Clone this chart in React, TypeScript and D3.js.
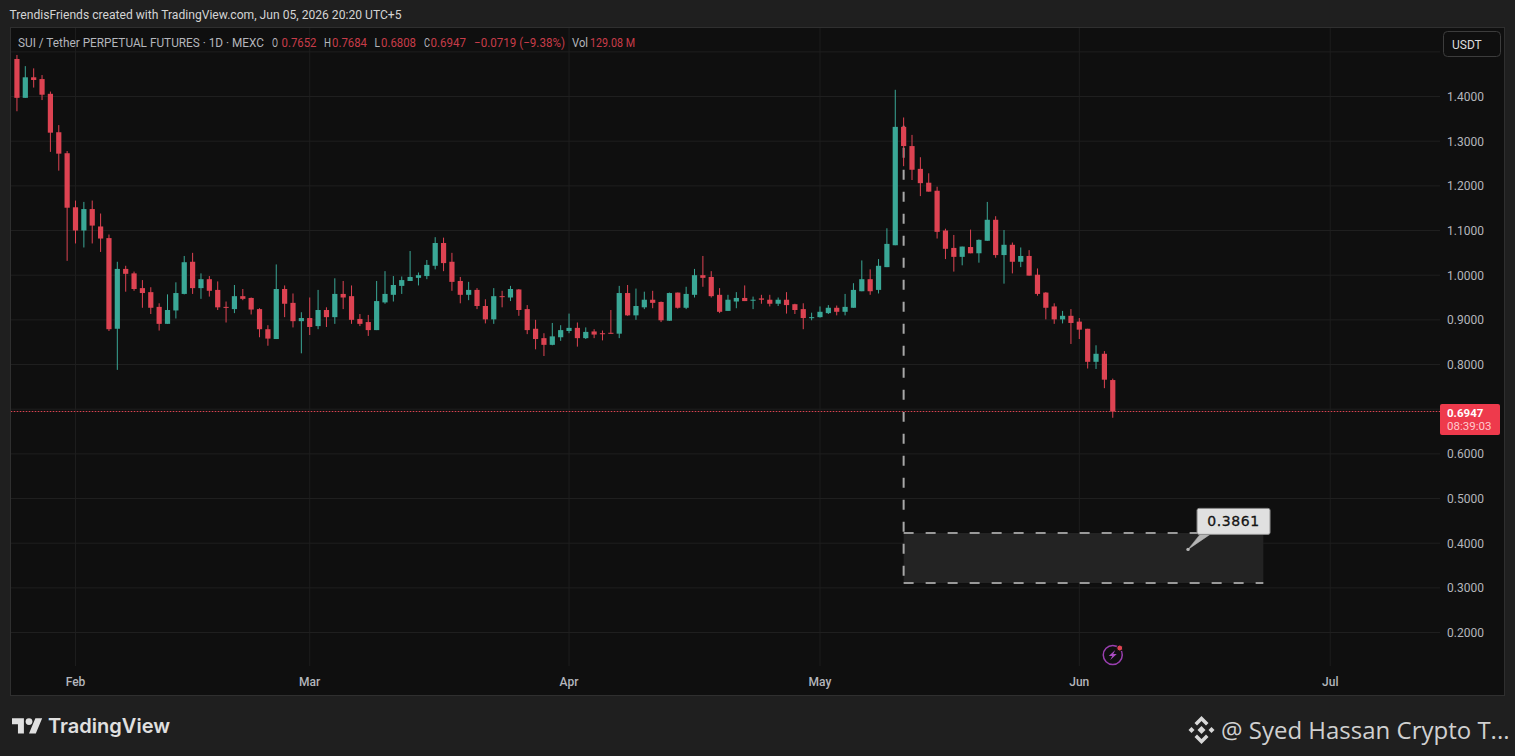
import * as d3 from 'd3';
import { useEffect, useRef } from 'react';

// daily candles, first one is Jan 25 2026
const firstDay = new Date(Date.UTC(2026, 0, 25));

const opens = [
  1.484, 1.397, 1.443, 1.439, 1.406, 1.320, 1.273, 1.152, 1.100, 1.148, 1.109, 1.083,
  0.880, 1.014, 1.004, 0.971, 0.962, 0.929, 0.891, 0.921, 0.958, 1.030, 0.971, 0.991,
  0.967, 0.929, 0.924, 0.953, 0.949, 0.924, 0.879, 0.857, 0.969, 0.938, 0.897, 0.904,
  0.886, 0.922, 0.906, 0.958, 0.953, 0.902, 0.895, 0.877, 0.939, 0.956, 0.976, 0.987,
  0.994, 0.998, 1.021, 1.072, 1.030, 0.987, 0.956, 0.967, 0.931, 0.901, 0.953, 0.950,
  0.968, 0.924, 0.880, 0.859, 0.844, 0.861, 0.875, 0.882, 0.859, 0.874, 0.870, 0.871,
  0.869, 0.960, 0.910, 0.928, 0.945, 0.940, 0.898, 0.961, 0.927, 0.956, 1.000, 0.996,
  0.956, 0.920, 0.941, 0.949, 0.943, 0.948, 0.945, 0.936, 0.945, 0.935, 0.924, 0.905,
  0.906, 0.915, 0.927, 0.918, 0.927, 0.964, 0.991, 0.967, 1.018, 1.067, 1.332, 1.289,
  1.238, 1.207, 1.189, 1.100, 1.061, 1.041, 1.063, 1.049, 1.077, 1.124, 1.045, 1.068,
  1.030, 1.043, 1.001, 0.961, 0.930, 0.901, 0.909, 0.896, 0.880, 0.806, 0.824, 0.7652,
];
const closes = [
  1.397, 1.443, 1.437, 1.404, 1.319, 1.272, 1.151, 1.100, 1.148, 1.111, 1.082, 0.879,
  1.014, 1.003, 0.969, 0.960, 0.927, 0.891, 0.922, 0.960, 1.029, 0.971, 0.991, 0.965,
  0.928, 0.927, 0.953, 0.947, 0.923, 0.879, 0.858, 0.969, 0.936, 0.897, 0.904, 0.884,
  0.922, 0.906, 0.958, 0.950, 0.900, 0.891, 0.877, 0.942, 0.958, 0.978, 0.989, 0.996,
  1.000, 1.023, 1.072, 1.027, 0.985, 0.956, 0.967, 0.931, 0.901, 0.953, 0.951, 0.969,
  0.922, 0.877, 0.857, 0.844, 0.863, 0.877, 0.882, 0.859, 0.873, 0.867, 0.868, 0.869,
  0.960, 0.910, 0.931, 0.945, 0.938, 0.899, 0.960, 0.927, 0.958, 1.000, 0.994, 0.953,
  0.918, 0.945, 0.949, 0.942, 0.945, 0.945, 0.936, 0.945, 0.933, 0.922, 0.904, 0.906,
  0.918, 0.927, 0.918, 0.929, 0.967, 0.991, 0.964, 1.021, 1.070, 1.332, 1.289, 1.236,
  1.206, 1.187, 1.097, 1.059, 1.041, 1.064, 1.049, 1.079, 1.124, 1.045, 1.068, 1.030,
  1.043, 0.999, 0.958, 0.927, 0.901, 0.909, 0.893, 0.878, 0.806, 0.824, 0.766, 0.6947,
];
const highs = [
  1.493, 1.468, 1.463, 1.448, 1.411, 1.336, 1.278, 1.167, 1.164, 1.167, 1.138, 1.091,
  1.030, 1.021, 1.008, 0.989, 0.973, 0.937, 0.957, 0.984, 1.043, 1.050, 1.004, 0.998,
  0.986, 0.941, 0.978, 0.969, 0.950, 0.926, 0.888, 1.024, 0.977, 0.959, 0.917, 0.950,
  0.967, 0.928, 0.993, 0.987, 0.977, 0.913, 0.911, 0.987, 1.009, 0.998, 0.997, 1.054,
  1.006, 1.034, 1.085, 1.084, 1.050, 0.996, 0.985, 0.971, 0.946, 0.971, 0.965, 0.976,
  0.969, 0.933, 0.900, 0.870, 0.893, 0.888, 0.914, 0.894, 0.883, 0.879, 0.876, 0.922,
  0.976, 0.978, 0.970, 0.963, 0.965, 0.941, 0.961, 0.961, 0.974, 1.014, 1.043, 1.009,
  0.971, 0.956, 0.962, 0.977, 0.952, 0.956, 0.956, 0.950, 0.962, 0.936, 0.937, 0.916,
  0.930, 0.933, 0.932, 0.958, 0.982, 1.033, 1.013, 1.036, 1.105, 1.415, 1.353, 1.314,
  1.264, 1.228, 1.198, 1.104, 1.090, 1.064, 1.102, 1.080, 1.164, 1.132, 1.101, 1.073,
  1.062, 1.056, 1.015, 0.962, 0.937, 0.920, 0.924, 0.904, 0.880, 0.843, 0.830, 0.7684,
];
const lows = [
  1.367, 1.397, 1.420, 1.392, 1.276, 1.234, 1.032, 1.071, 1.062, 1.071, 1.052, 0.875,
  0.788, 0.963, 0.965, 0.927, 0.913, 0.876, 0.891, 0.903, 0.957, 0.958, 0.947, 0.952,
  0.922, 0.894, 0.915, 0.944, 0.912, 0.861, 0.842, 0.857, 0.906, 0.883, 0.825, 0.866,
  0.879, 0.884, 0.891, 0.924, 0.891, 0.886, 0.864, 0.877, 0.936, 0.941, 0.958, 0.987,
  0.977, 0.991, 1.013, 1.009, 0.965, 0.937, 0.944, 0.924, 0.892, 0.891, 0.928, 0.942,
  0.909, 0.868, 0.834, 0.819, 0.843, 0.853, 0.870, 0.840, 0.857, 0.859, 0.854, 0.869,
  0.859, 0.909, 0.900, 0.924, 0.926, 0.895, 0.898, 0.925, 0.924, 0.950, 0.974, 0.950,
  0.915, 0.920, 0.926, 0.942, 0.924, 0.936, 0.930, 0.931, 0.914, 0.913, 0.879, 0.899,
  0.905, 0.913, 0.910, 0.910, 0.927, 0.964, 0.956, 0.959, 1.018, 1.067, 1.244, 1.213,
  1.177, 1.187, 1.082, 1.036, 1.008, 1.022, 1.049, 1.028, 1.077, 1.039, 0.981, 1.004,
  1.018, 0.999, 0.954, 0.901, 0.891, 0.892, 0.846, 0.857, 0.791, 0.790, 0.747, 0.6808,
];

const priceTicks = [0.2, 0.3, 0.4, 0.5, 0.6, 0.7, 0.8, 0.9, 1.0, 1.1, 1.2, 1.3, 1.4, 1.5];
const hiddenPriceLabels = [0.7, 1.5];
const lastPrice = 0.6947;
const calloutPrice = 0.3861;
const zoneTop = 0.4228;
const zoneBottom = 0.3108;
const zoneStart = new Date(Date.UTC(2026, 4, 11));
const zoneEnd = new Date(Date.UTC(2026, 5, 23));
const calloutDay = new Date(Date.UTC(2026, 5, 14));
const spikeTop = 1.3345;

const legendTexts = [
  'SUI / Tether PERPETUAL FUTURES · 1D · MEXC',
  'O',
  '0.7652',
  'H',
  '0.7684',
  'L',
  '0.6808',
  'C',
  '0.6947',
  '−0.0719 (−9.38%)',
  'Vol',
  '129.08 M',
];

const W = 1515;
const H = 756;
const font = 'Roboto, "Liberation Sans", sans-serif';
const upColor = '#3aa796';
const downColor = '#dd4352';
const textColor = '#b4b6bc';

const App = () => {
  const ref = useRef<SVGSVGElement | null>(null);

  useEffect(() => {
    if (!ref.current) return;

    const svg = d3.select(ref.current);
    svg.selectAll('*').remove();
    svg.attr('width', W).attr('height', H);

    const x = d3
      .scaleUtc()
      .domain([new Date(Date.UTC(2026, 1, 1)), new Date(Date.UTC(2026, 5, 1))])
      .range([75.5, 1079.3]);
    const y = d3.scaleLinear().domain([0.2, 1.4]).range([632.5, 96.5]);

    svg.append('rect').attr('width', W).attr('height', H).attr('fill', '#1f1f1f');
    svg
      .append('rect')
      .attr('x', 10.5)
      .attr('y', 27.5)
      .attr('width', 1494)
      .attr('height', 668)
      .attr('fill', '#0f0f0f')
      .attr('stroke', '#2f2f2f');

    // grid
    const months = d3.utcMonth.range(new Date(Date.UTC(2026, 1, 1)), new Date(Date.UTC(2026, 6, 2)));
    svg
      .selectAll('.vgrid')
      .data(months)
      .enter()
      .append('line')
      .attr('x1', d => x(d))
      .attr('x2', d => x(d))
      .attr('y1', 28)
      .attr('y2', 666)
      .attr('stroke', '#1d1d1d');
    svg
      .selectAll('.hgrid')
      .data(priceTicks)
      .enter()
      .append('line')
      .attr('x1', 11)
      .attr('x2', 1440)
      .attr('y1', d => y(d))
      .attr('y2', d => y(d))
      .attr('stroke', '#1f1f1f');

    // axis labels
    svg
      .selectAll('.ptick')
      .data(priceTicks.filter(d => !hiddenPriceLabels.includes(d)))
      .enter()
      .append('text')
      .attr('x', 1447)
      .attr('y', d => y(d) + 4.5)
      .attr('font-family', font)
      .attr('font-size', 12)
      .attr('fill', textColor)
      .text(d => d.toFixed(4));
    svg
      .selectAll('.mtick')
      .data(months)
      .enter()
      .append('text')
      .attr('x', d => x(d))
      .attr('y', 686)
      .attr('text-anchor', 'middle')
      .attr('font-family', font)
      .attr('font-size', 12)
      .attr('font-weight', 500)
      .attr('fill', textColor)
      .text(d => d3.utcFormat('%b')(d));

    // drawn zone with the dashed guide, under the candles
    const zoneG = svg.append('g');
    zoneG
      .append('rect')
      .attr('x', x(zoneStart))
      .attr('y', y(zoneTop))
      .attr('width', x(zoneEnd) - x(zoneStart))
      .attr('height', y(zoneBottom) - y(zoneTop))
      .attr('fill', '#232323');
    [zoneTop, zoneBottom].forEach(p => {
      zoneG
        .append('line')
        .attr('x1', x(zoneStart))
        .attr('x2', x(zoneEnd))
        .attr('y1', y(p))
        .attr('y2', y(p))
        .attr('stroke', '#999999')
        .attr('stroke-width', 1.8)
        .attr('stroke-dasharray', '10 12');
    });
    zoneG
      .append('line')
      .attr('x1', x(zoneStart))
      .attr('x2', x(zoneStart))
      .attr('y1', y(spikeTop))
      .attr('y2', y(zoneBottom))
      .attr('stroke', '#a8a8a8')
      .attr('stroke-width', 2)
      .attr('stroke-dasharray', '10 12');

    // last price line, dots over a dim red trace
    const lastY = Math.floor(y(lastPrice)) + 0.5;
    svg
      .append('line')
      .attr('x1', 11)
      .attr('x2', 1440)
      .attr('y1', lastY)
      .attr('y2', lastY)
      .attr('stroke', '#4a1f24');
    svg
      .append('line')
      .attr('x1', 11)
      .attr('x2', 1440)
      .attr('y1', lastY)
      .attr('y2', lastY)
      .attr('stroke', '#d9434f')
      .attr('stroke-width', 1)
      .attr('stroke-dasharray', '1 2');

    // candles
    const candles = opens.map((o, i) => ({
      date: d3.utcDay.offset(firstDay, i),
      open: o,
      close: closes[i],
      high: highs[i],
      low: lows[i],
    }));
    const colorOf = (d: { open: number; close: number }) => (d.close >= d.open ? upColor : downColor);

    svg
      .selectAll('.wick')
      .data(candles)
      .enter()
      .append('line')
      .attr('x1', d => x(d.date))
      .attr('x2', d => x(d.date))
      .attr('y1', d => y(d.high))
      .attr('y2', d => y(d.low))
      .attr('stroke', colorOf)
      .attr('stroke-width', 1);
    svg
      .selectAll('.body')
      .data(candles)
      .enter()
      .append('rect')
      .attr('x', d => x(d.date) - 2.6)
      .attr('y', d => y(Math.max(d.open, d.close)))
      .attr('width', 5.2)
      .attr('height', d => Math.max(1, Math.abs(y(d.open) - y(d.close))))
      .attr('fill', colorOf);

    // callout for the target
    const dotX = x(calloutDay);
    const dotY = y(calloutPrice);
    svg
      .append('path')
      .attr('d', `M${dotX},${dotY} L${dotX + 12},${dotY - 15} L${dotX + 22},${dotY - 15} Z`)
      .attr('fill', '#b5b5b5')
      .attr('stroke', '#b5b5b5')
      .attr('stroke-width', 0.5);
    svg.append('circle').attr('cx', dotX).attr('cy', dotY).attr('r', 1.7).attr('fill', '#b5b5b5');
    svg
      .append('rect')
      .attr('x', dotX + 9)
      .attr('y', dotY - 41)
      .attr('width', 73)
      .attr('height', 26)
      .attr('rx', 2)
      .attr('fill', '#e0e0e0')
      .attr('stroke', '#8a8a8a');
    svg
      .append('text')
      .attr('x', dotX + 45.5)
      .attr('y', dotY - 23)
      .attr('text-anchor', 'middle')
      .attr('font-family', '"DejaVu Sans", sans-serif')
      .attr('font-size', 14)
      .attr('letter-spacing', 0.6)
      .attr('stroke', '#141414')
      .attr('stroke-width', 0.3)
      .attr('fill', '#141414')
      .text(calloutPrice.toFixed(4));

    // last price tag
    svg
      .append('rect')
      .attr('x', 1440)
      .attr('y', y(lastPrice) - 7.5)
      .attr('width', 60)
      .attr('height', 31)
      .attr('rx', 2)
      .attr('fill', '#ee3a4c');
    svg
      .append('text')
      .attr('x', 1447)
      .attr('y', y(lastPrice) + 5)
      .attr('font-family', font)
      .attr('font-size', 11.5)
      .attr('font-weight', 700)
      .attr('fill', '#ffffff')
      .text(lastPrice.toFixed(4));
    svg
      .append('text')
      .attr('x', 1447)
      .attr('y', y(lastPrice) + 18.5)
      .attr('font-family', font)
      .attr('font-size', 11.5)
      .attr('fill', '#ffc9ce')
      .text('08:39:03');

    // USDT button
    svg
      .append('rect')
      .attr('x', 1443.5)
      .attr('y', 31.5)
      .attr('width', 57)
      .attr('height', 25)
      .attr('rx', 4)
      .attr('fill', '#0f0f0f')
      .attr('stroke', '#3c3c3c');
    svg
      .append('text')
      .attr('x', 1452)
      .attr('y', 49)
      .attr('font-family', font)
      .attr('font-size', 12)
      .attr('fill', '#dcdcdc')
      .text('USDT');

    // header and legend
    svg
      .append('text')
      .attr('x', 9.5)
      .attr('y', 18.5)
      .attr('font-family', font)
      .attr('font-size', 12.5)
      .attr('fill', '#d4d4d4')
      .attr('textLength', 392)
      .attr('lengthAdjust', 'spacingAndGlyphs')
      .text('TrendisFriends created with TradingView.com, Jun 05, 2026 20:20 UTC+5');

    const legendX = [18, 272, 281.5, 324, 332, 374.5, 381, 424, 430.5, 474, 572, 590];
    const legendLen = [246, 6, 35, 7, 35, 5.5, 35, 6, 35.5, 91, 16, 45];
    const legendIsValue = [false, false, true, false, true, false, true, false, true, true, false, true];
    svg
      .selectAll('.legend')
      .data(legendTexts)
      .enter()
      .append('text')
      .attr('x', (_, i) => legendX[i])
      .attr('y', 46.5)
      .attr('font-family', font)
      .attr('font-size', 12.5)
      .attr('fill', (_, i) => (legendIsValue[i] ? '#c83c49' : '#b4b6bc'))
      .attr('textLength', (_, i) => legendLen[i])
      .attr('lengthAdjust', 'spacingAndGlyphs')
      .text(d => d);

    // bolt marker under the last candle
    const bolt = svg.append('g').attr('transform', `translate(${x(d3.utcDay.offset(firstDay, 131))},655)`);
    bolt.append('circle').attr('r', 9.5).attr('fill', 'none').attr('stroke', '#9a3fb0').attr('stroke-width', 1.5);
    bolt.append('path').attr('d', 'M2.5,-5 L-4,1 L-0.5,1 L-2.5,5 L4,-1 L0.5,-1 Z').attr('fill', '#a94cc0');
    bolt.append('circle').attr('cx', 7).attr('cy', -7).attr('r', 3).attr('fill', '#dd4352').attr('stroke', '#0f0f0f');

    // footer logo
    const logo = svg.append('g').attr('transform', 'translate(12,714.8) scale(0.85)').attr('fill', '#e0e0e0');
    logo.append('path').attr('d', 'M14 22H7V11H0V4h14v18zM28 22h-8l7.5-18h8L28 22z');
    logo.append('circle').attr('cx', 20).attr('cy', 8).attr('r', 4);
    svg
      .append('text')
      .attr('x', 48)
      .attr('y', 733)
      .attr('font-family', 'Inter, Roboto, sans-serif')
      .attr('font-size', 20)
      .attr('font-weight', 600)
      .attr('fill', '#e0e0e0')
      .attr('textLength', 122)
      .attr('lengthAdjust', 'spacingAndGlyphs')
      .text('TradingView');

    // exchange mark and author
    const mark = svg.append('g').attr('transform', 'translate(1201.5,730)').attr('fill', '#d8d8d8');
    mark.append('path').attr('d', 'M0,-4 L4,0 L0,4 L-4,0 Z');
    mark.append('path').attr('d', 'M-10,-3 L-7,0 L-10,3 L-13,0 Z');
    mark.append('path').attr('d', 'M10,-3 L13,0 L10,3 L7,0 Z');
    mark.append('path').attr('d', 'M0,-14 L7,-7 L4.5,-4.5 L0,-9 L-4.5,-4.5 L-7,-7 Z');
    mark.append('path').attr('d', 'M0,14 L7,7 L4.5,4.5 L0,9 L-4.5,4.5 L-7,7 Z');
    svg
      .append('text')
      .attr('x', 1221)
      .attr('y', 739)
      .attr('font-family', '"Open Sans", "Noto Sans", sans-serif')
      .attr('font-size', 24)
      .attr('fill', '#d0d0d0')
      .text('@ Syed Hassan Crypto T...');
  }, []);

  return <svg ref={ref} style={{ position: 'absolute', top: 0, left: 0, display: 'block' }} />;
};

export default App;
